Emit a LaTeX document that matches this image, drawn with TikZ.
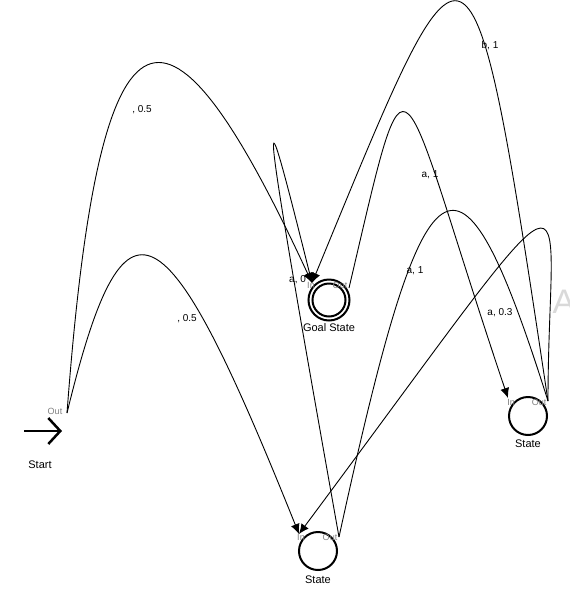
\documentclass[tikz,border=0pt]{standalone}
\usepackage{fontspec}
\setmainfont{Liberation Sans}
\usetikzlibrary{arrows.meta}

\begin{document}
\begin{tikzpicture}[x=1pt, y=-1pt,
    stateshape/.style={circle, draw, line width=2pt, inner sep=0pt, minimum size=38pt},
    portlabel/.style={font=\fontsize{9}{9}\selectfont, text=gray, inner sep=0pt},
    statename/.style={font=\fontsize{11}{13}\selectfont, inner sep=0pt},
    edgelabel/.style={font=\fontsize{10}{12}\selectfont, inner sep=0pt},
    move/.style={line width=0.9pt, -{Latex[length=10pt, width=9pt]}},
    plainmove/.style={line width=0.9pt}]
    \useasboundingbox (0,0) rectangle (570,603);

    \node[font=\fontsize{34}{34}\selectfont, text=gray!30, inner sep=0pt] (mark) at (564,302) {A};

    \node[stateshape, minimum size=41pt] (goal) at (329,300) {};
    \node[stateshape, minimum size=33pt] (goalRing) at (goal) {};
    \node[stateshape] (stateR) at (528,416) {};
    \node[stateshape] (stateB) at (318,551) {};

    \node[statename] (goalName) at (329,328) {Goal State};
    \node[statename] (stateRName) at (528,444) {State};
    \node[statename] (stateBName) at (318,580) {State};
    \node[statename] (startName) at (40,465) {Start};

    \coordinate (startTail) at (24,431);
    \coordinate (startTip) at (62,431);
    \draw[line width=2.5pt, -{Straight Barb[length=12pt, width=26pt]}] (startTail) -- (startTip);

    \coordinate (startOut) at (67,413);
    \coordinate (goalIn) at (312,283);
    \coordinate (goalOut) at (349,288);
    \coordinate (stateRIn) at (508,398);
    \coordinate (stateROut) at (548,401);
    \coordinate (stateBIn) at (299,534);
    \coordinate (stateBOut) at (339,537);

    \node[edgelabel, anchor=west] (loopLabel) at (289,280) {a, 0};

    \draw[move] (startOut) .. controls (100,-28) and (168,-28) .. (goalIn);
    \draw[move] (startOut) .. controls (125,175) and (165,200) .. (stateBIn);
    \draw[move] (stateBOut) .. controls (254,60) and (260,75) .. (goalIn);
    \draw[move] (goalOut) .. controls (412,20) and (394,60) .. (stateRIn);
    \draw[move] (stateROut) .. controls (470,-120) and (470,-100) .. (goalIn);
    \draw[plainmove] (stateBOut) .. controls (425,142) and (458,116) .. (stateROut);
    \draw[move] (stateROut) .. controls (548,170) and (598,132) .. (stateBIn);

    \node[edgelabel] (upperLabel) at (142,110) {, 0.5};
    \node[edgelabel] (lowerLabel) at (187,319) {, 0.5};
    \node[edgelabel] (goalOutLabel) at (430,175) {a, 1};
    \node[edgelabel] (backLabel) at (490,46) {b, 1};
    \node[edgelabel] (crossLabel) at (415,271) {a, 1};
    \node[edgelabel] (returnLabel) at (500,313) {a, 0.3};

    \node[portlabel] (startOutText) at (55,411) {Out};
    \node[portlabel] (goalInText) at (311,285) {In};
    \node[portlabel] (goalOutText) at (340,285) {Out};
    \node[portlabel] (stateRInText) at (511,402) {In};
    \node[portlabel] (stateROutText) at (539,402) {Out};
    \node[portlabel] (stateBInText) at (301,537) {In};
    \node[portlabel] (stateBOutText) at (330,537) {Out};
\end{tikzpicture}
\end{document}
